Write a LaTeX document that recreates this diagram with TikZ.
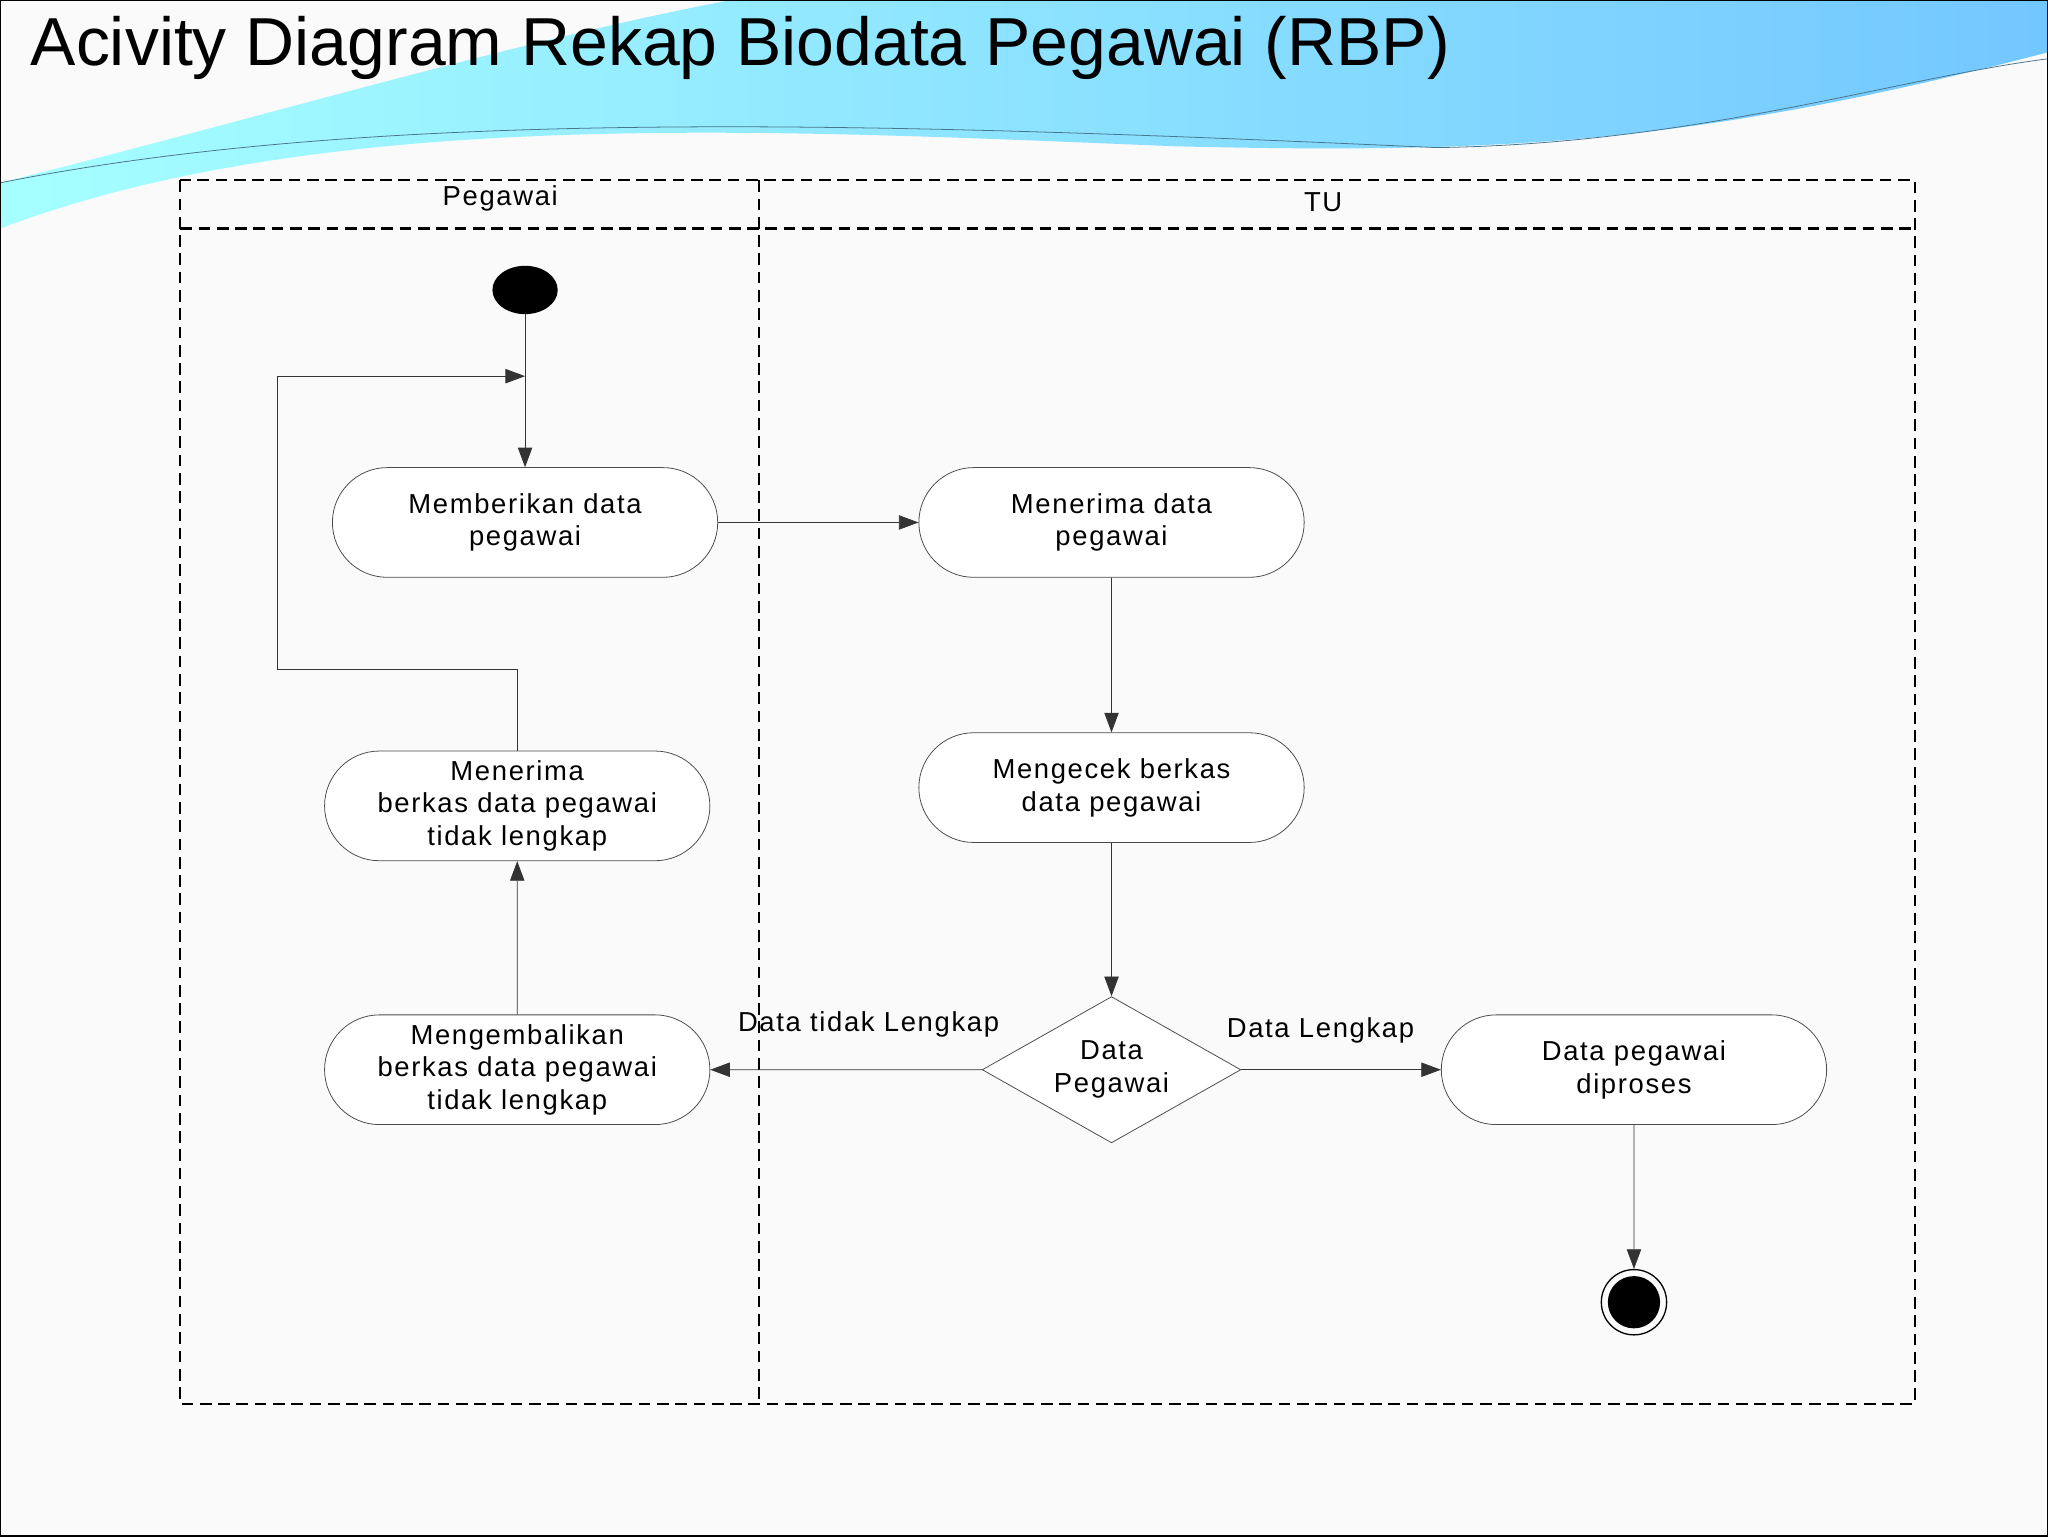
\documentclass[tikz,border=0pt]{standalone}
\usepackage{fontspec}
\setmainfont{Liberation Sans}
\usetikzlibrary{shapes.geometric,shapes.misc,arrows.meta}
\newcommand{\nf}{\fontsize{21}{25}\selectfont\addfontfeatures{LetterSpace=6}}
\begin{document}
\begin{tikzpicture}[x=1pt,y=-1pt,
  act/.style={draw=black!70,line width=0.6pt,rounded rectangle,fill=white,minimum width=295pt,minimum height=84pt,align=center,font=\nf,inner sep=0pt},
  lane/.style={draw=black,line width=1.8pt,dash pattern=on 9pt off 5pt},
  conn/.style={draw=black!80,line width=0.6pt,-{Triangle[length=15pt,width=11pt]}},
  lbl/.style={font=\nf}]
\useasboundingbox (0,0) rectangle (1568,1176);
\fill[black!2] (0,0) rectangle (1568,1176);
% wave
\shade[left color=cyan!35!white,right color=cyan!60!blue!55] (560,0) -- (1568,0) -- (1568,40) .. controls (1300,110) and (1150,118) .. (900,112) .. controls (600,100) and (250,80) .. (0,175) -- (0,140) .. controls (200,90) and (400,30) .. (560,0) -- cycle;
\draw[cyan!50!black,line width=0.6pt] (0,140) .. controls (300,80) and (700,95) .. (1100,113) .. controls (1300,110) and (1450,60) .. (1568,45);
\draw[black,line width=1pt] (0,0) rectangle (1568,1176);
\node[anchor=west,font=\fontsize{52}{58}\selectfont] (title) at (20,37) {Acivity Diagram Rekap Biodata Pegawai (RBP)};
% lanes
\draw[lane] (138,138) rectangle (1466,1075);
\draw[lane] (138,175) -- (1466,175);
\draw[lane] (581,138) -- (581,1075);
\node[lbl] (lp) at (383,152) {Pegawai};
\node[lbl] (lt) at (1013,155) {TU};
% nodes
\node[ellipse,fill=black,minimum width=50pt,minimum height=37pt,inner sep=0pt] (start) at (402,222) {};
\node[act] (a1) at (402,400) {Memberikan data\\pegawai};
\node[act] (a2) at (851,400) {Menerima data\\pegawai};
\node[act] (a3) at (851,603) {Mengecek berkas\\data pegawai};
\node[diamond,draw=black!70,line width=0.6pt,fill=white,minimum width=198pt,minimum height=112pt,inner sep=0pt] (d) at (851,819) {};
\node[align=center,font=\nf] (dt) at (d) {Data\\Pegawai};
\node[act] (a4) at (1251,819) {Data pegawai\\diproses};
\node[act] (a5) at (396,819) {Mengembalikan\\berkas data pegawai\\tidak lengkap};
\node[act] (a6) at (396,617) {Menerima\\berkas data pegawai\\tidak lengkap};
\node[circle,draw=black,line width=1pt,minimum size=50pt,inner sep=0pt] (end) at (1251,997) {};
\node[circle,fill=black,minimum size=40pt,inner sep=0pt] at (end) {};
\coordinate (m) at (402,288);
% edges
\draw[conn] (start) -- (a1);
\draw[conn] (a1) -- (a2);
\draw[conn] (a2) -- (a3);
\draw[conn] (a3) -- (d);
\draw[conn] (d) -- (a4);
\draw[conn] (d) -- (a5);
\draw[conn] (a5) -- (a6);
\draw[conn] (a4) -- (end);
\draw[conn] (a6.north) -- ++(0,-62) -| (212,288) -- (m);
\node[lbl] (l1) at (665,784) {Data tidak Lengkap};
\node[lbl] (l2) at (1011,789) {Data Lengkap};
\end{tikzpicture}
\end{document}
